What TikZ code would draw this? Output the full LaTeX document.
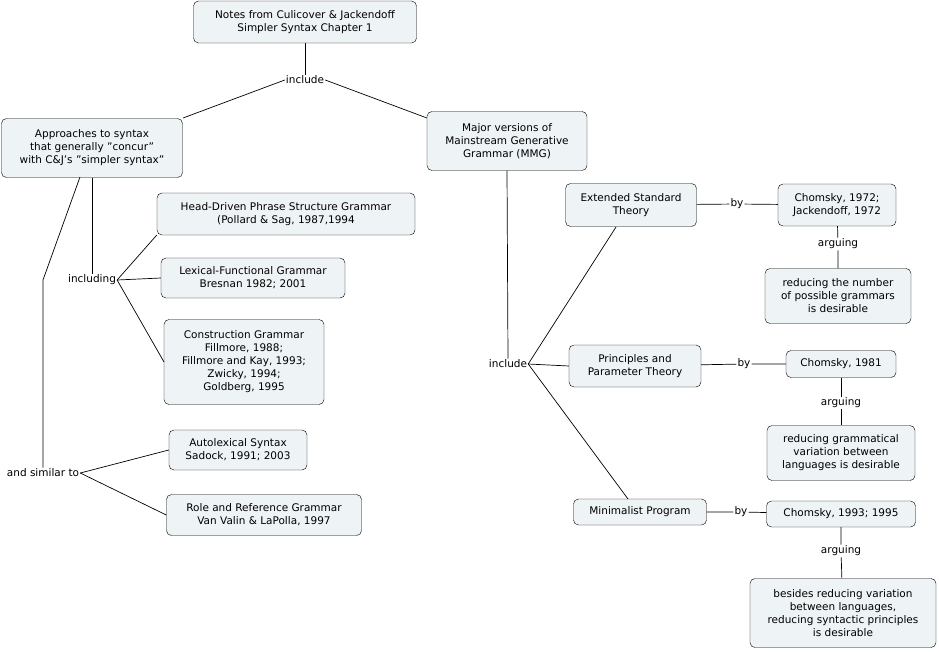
\documentclass[tikz,border=0pt]{standalone}
\usepackage{fontspec}
\setmainfont{DejaVu Sans}
\begin{document}
\begin{tikzpicture}[x=1pt,y=-1pt,
  box/.style={draw=black,fill=boxfill,rounded corners=5pt,align=center,inner xsep=6pt,inner ysep=4pt,font=\fontsize{10.5}{13}\selectfont},
  lbl/.style={inner sep=1pt,fill=white,font=\fontsize{10.5}{13}\selectfont},
  con/.style={draw=black,line width=0.7pt}]
\definecolor{boxfill}{HTML}{EEF3F5}
\useasboundingbox (0,0) rectangle (939,651);
\node[box,minimum width=223pt,minimum height=42pt] (title) at (305,22) {Notes from Culicover \& Jackendoff\\Simpler Syntax Chapter 1};
\node[lbl] (inc1) at (305,80) {include};
\node[box,minimum width=181pt,minimum height=59pt] (appr) at (92,148) {Approaches to syntax\\that generally "concur"\\with C\&J's "simpler syntax"};
\node[box,minimum width=160pt,minimum height=59pt] (mmg) at (507,141) {Major versions of\\Mainstream Generative\\Grammar (MMG)};
\node[box,minimum width=258pt,minimum height=42pt] (hpsg) at (286,214) {Head-Driven Phrase Structure Grammar\\(Pollard \& Sag, 1987,1994};
\node[lbl] (incl) at (92,280) {including};
\node[box,minimum width=184pt,minimum height=40pt] (lfg) at (253,278) {Lexical-Functional Grammar\\Bresnan 1982; 2001};
\node[box,minimum width=160pt,minimum height=85pt] (cxg) at (244,362) {Construction Grammar\\Fillmore, 1988;\\Fillmore and Kay, 1993;\\Zwicky, 1994;\\Goldberg, 1995};
\node[box,minimum width=138pt,minimum height=40pt] (auto) at (238,450) {Autolexical Syntax\\Sadock, 1991; 2003};
\node[box,minimum width=195pt,minimum height=41pt] (rrg) at (264,515) {Role and Reference Grammar\\Van Valin \& LaPolla, 1997};
\node[lbl] (sim) at (43,473) {and similar to};
\node[box,minimum width=131pt,minimum height=43pt] (est) at (631,205) {Extended Standard\\Theory};
\node[lbl] (by1) at (737,204) {by};
\node[box,minimum width=118pt,minimum height=42pt] (c72) at (837,205) {Chomsky, 1972;\\Jackendoff, 1972};
\node[lbl] (arg1) at (838,244) {arguing};
\node[box,minimum width=146pt,minimum height=55pt] (red1) at (838,296) {reducing the number\\of possible grammars\\is desirable};
\node[lbl] (inc2) at (508,364) {include};
\node[box,minimum width=132pt,minimum height=42pt] (pp) at (635,366) {Principles and\\Parameter Theory};
\node[lbl] (by2) at (744,364) {by};
\node[box,minimum width=110pt,minimum height=27pt] (c81) at (841,364) {Chomsky, 1981};
\node[lbl] (arg2) at (841,403) {arguing};
\node[box,minimum width=148pt,minimum height=55pt] (red2) at (841,453) {reducing grammatical\\variation between\\languages is desirable};
\node[box,minimum width=133pt,minimum height=26pt] (mp) at (640,512) {Minimalist Program};
\node[lbl] (by3) at (741,512) {by};
\node[box,minimum width=149pt,minimum height=26pt] (c93) at (841,514) {Chomsky, 1993; 1995};
\node[lbl] (arg3) at (841,551) {arguing};
\node[box,minimum width=186pt,minimum height=69pt] (bes) at (843,613) {besides reducing variation\\between languages,\\reducing syntactic principles\\is desirable};
\coordinate (bend) at (43,280);
\begin{scope}[on background layer/.style={}]
\draw[con] (title) -- (inc1);
\draw[con] (inc1.west) -- (183,118);
\draw[con] (inc1.east) -- (427,118);
\draw[con] (appr.south) -- (incl);
\draw[con] (80,177) -- (bend) -- (sim.north);
\draw[con] (incl.east) -- (hpsg.west|-220,235) ;
\draw[con] (incl.east) -- (lfg.west);
\draw[con] (incl.east) -- (164,362);
\draw[con] (sim.east) -- (auto.west);
\draw[con] (sim.east) -- (rrg.west);
\draw[con] (mmg.south) -- (inc2.north);
\draw[con] (inc2.east) -- (616,227);
\draw[con] (inc2.east) -- (pp.west);
\draw[con] (inc2.east) -- (628,499);
\draw[con] (est) -- (by1) -- (c72);
\draw[con] (c72) -- (arg1) -- (red1);
\draw[con] (pp) -- (by2) -- (c81);
\draw[con] (c81) -- (arg2) -- (red2);
\draw[con] (mp) -- (by3) -- (c93);
\draw[con] (c93) -- (arg3) -- (bes);
\end{scope}
\end{tikzpicture}
\end{document}
